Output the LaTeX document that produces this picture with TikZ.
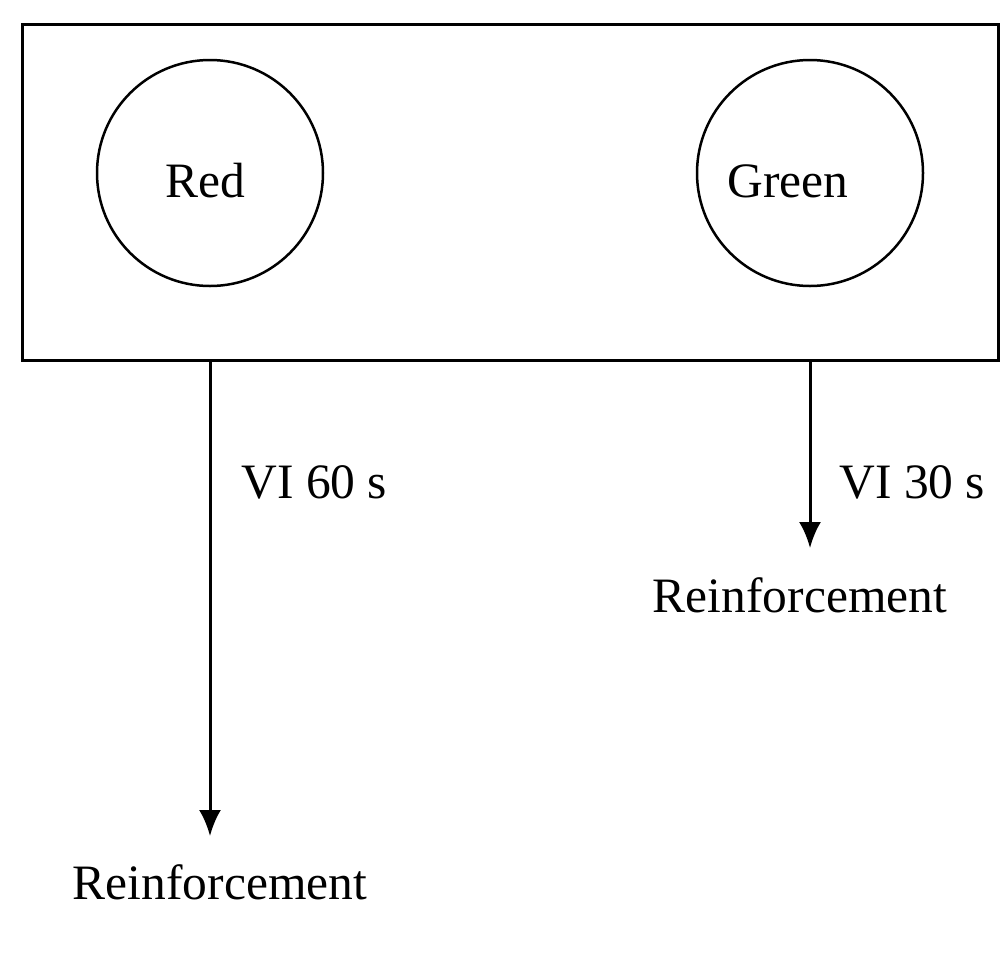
\documentclass[tikz,border=0pt]{standalone}
\usepackage{fontspec}
\setmainfont{Liberation Serif}
\usetikzlibrary{arrows.meta}
\begin{document}
\begin{tikzpicture}[x=1pt,y=-1pt,line width=3pt,
  lbl/.style={font=\fontsize{49.5}{55}\selectfont,inner sep=0pt},
  arr/.style={-{Latex[length=26pt,width=22pt]}}]
\useasboundingbox (0,0) rectangle (1008,967);
\node[draw,line width=3pt,minimum width=976pt,minimum height=336pt,inner sep=0pt] (box) at (510,192) {};
\node[draw,circle,line width=2.5pt,minimum size=226pt,inner sep=0pt] (red) at (210,173) {};
\node[lbl] at (205,181) {Red};
\node[draw,circle,line width=2.5pt,minimum size=226pt,inner sep=0pt] (green) at (810,173) {};
\node[lbl] at (788,181) {Green};
\coordinate (a1) at (210,360);
\coordinate (a2) at (810,360);
\node[lbl] (r1) at (220,882) {Reinforcement};
\node[lbl] (r2) at (800,595) {Reinforcement};
\coordinate (e1) at (210,836);
\coordinate (e2) at (810,548);
\draw[arr] (a1) -- (e1);
\draw[arr] (a2) -- (e2);
\node[lbl,anchor=west] at (240,482) {VI 60 s};
\node[lbl,anchor=west] at (838,482) {VI 30 s};
\end{tikzpicture}
\end{document}
